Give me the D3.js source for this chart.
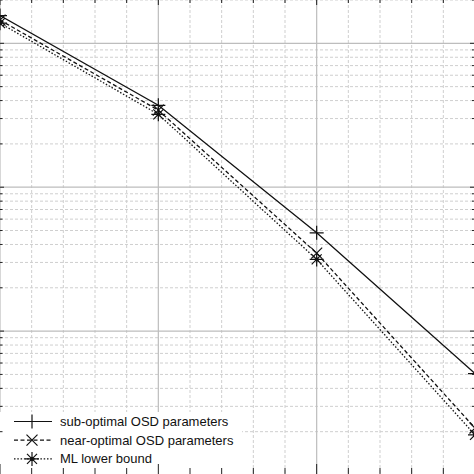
<!DOCTYPE html>
<html>
<head>
<meta charset="utf-8">
<script src="https://cdn.jsdelivr.net/npm/d3@7"></script>
<style>
  body { margin: 0; background: #fff; }
  svg { display: block; }
  text { font-family: "Liberation Sans", Arial, sans-serif; }
</style>
</head>
<body>
<svg id="chart"></svg>
<script>
// SNR points (dB) and frame error rates
const snr = [2, 3, 4, 5];
const subOptimal = [0.0156, 3.71e-3, 4.82e-4, 5.07e-5];
const nearOptimal = [0.0145, 3.43e-3, 3.48e-4, 2.12e-5];
const mlBound = [0.0138, 3.21e-3, 3.15e-4, 1.90e-5];
const seriesNames = ["sub-optimal OSD parameters", "near-optimal OSD parameters", "ML lower bound"];

const xMajor = [2, 3, 4, 5];
const xMinor = d3.range(2, 5.001, 0.2);
const yMajor = [1e-5, 1e-4, 1e-3, 1e-2];

const width = 474, height = 474;
const svg = d3.select("#chart").attr("width", width).attr("height", height);

const x = d3.scaleLinear().domain([2, 5]).range([0, 475]);
const y = d3.scaleLog().domain([1e-5, 2e-2]).range([475, 0]);

// minor y values: 2..9 per decade
const yMinor = [];
[1e-5, 1e-4, 1e-3, 1e-2].forEach(d => {
    for (let k = 2; k <= 9; k++) {
        const v = d * k;
        if (v <= 2e-2) yMinor.push(v);
    }
});

const grid = svg.append("g");
grid.selectAll(".gx-minor")
    .data(xMinor.filter(v => !xMajor.some(m => Math.abs(m - v) < 1e-6)))
    .join("line")
    .attr("x1", d => x(d)).attr("x2", d => x(d))
    .attr("y1", 0).attr("y2", height)
    .attr("stroke", "#cfcfcf").attr("stroke-dasharray", "3,2");
grid.selectAll(".gy-minor")
    .data(yMinor)
    .join("line")
    .attr("x1", 0).attr("x2", width)
    .attr("y1", d => y(d)).attr("y2", d => y(d))
    .attr("stroke", "#cfcfcf").attr("stroke-dasharray", "3,2");
grid.selectAll(".gx-major")
    .data(xMajor)
    .join("line")
    .attr("x1", d => x(d)).attr("x2", d => x(d))
    .attr("y1", 0).attr("y2", height)
    .attr("stroke", "#bdbdbd").attr("stroke-width", 1.2);
grid.selectAll(".gy-major")
    .data(yMajor)
    .join("line")
    .attr("x1", 0).attr("x2", width)
    .attr("y1", d => y(d)).attr("y2", d => y(d))
    .attr("stroke", "#bdbdbd").attr("stroke-width", 1.2);

const styles = [
    { data: subOptimal, dash: null, marker: "plus" },
    { data: nearOptimal, dash: "4,2.5", marker: "cross" },
    { data: mlBound, dash: "1.5,1.8", marker: "star" }
];

const line = d3.line().x(d => x(d[0])).y(d => y(d[1]));

function drawMarker(g, type, cx, cy) {
    const s = 7, c = 5.5;
    const path = d3.path();
    if (type === "plus" || type === "star") {
        path.moveTo(cx - s, cy); path.lineTo(cx + s, cy);
        path.moveTo(cx, cy - s); path.lineTo(cx, cy + s);
    }
    if (type === "cross" || type === "star") {
        const r = type === "star" ? 5 : c;
        path.moveTo(cx - r, cy - r); path.lineTo(cx + r, cy + r);
        path.moveTo(cx - r, cy + r); path.lineTo(cx + r, cy - r);
    }
    g.append("path").attr("d", path.toString())
        .attr("stroke", "#111").attr("stroke-width", 1.2).attr("fill", "none");
    if (type === "star") {
        g.append("circle").attr("cx", cx).attr("cy", cy).attr("r", 2).attr("fill", "#111");
    }
}

const plot = svg.append("g");
styles.forEach(s => {
    const pts = snr.map((v, i) => [v, s.data[i]]);
    plot.append("path")
        .attr("d", line(pts))
        .attr("fill", "none")
        .attr("stroke", "#111")
        .attr("stroke-width", 1.3)
        .attr("stroke-dasharray", s.dash);
    const mg = plot.append("g");
    pts.forEach(p => drawMarker(mg, s.marker, x(p[0]), y(p[1])));
});

// legend
const legend = svg.append("g");
legend.append("rect")
    .attr("x", 0).attr("y", 412).attr("width", 242).attr("height", 70)
    .attr("fill", "#fff");
styles.forEach((s, i) => {
    const ly = 421.5 + i * 18.7;
    legend.append("line")
        .attr("x1", 14).attr("x2", 52).attr("y1", ly).attr("y2", ly)
        .attr("stroke", "#111").attr("stroke-width", 1.2)
        .attr("stroke-dasharray", s.dash);
    drawMarker(legend, s.marker, 32, ly);
    legend.append("text")
        .attr("x", 60).attr("y", ly + 4.5)
        .attr("font-size", "13px")
        .attr("fill", "#111")
        .text(seriesNames[i]);
});

// axis ticks on the frame
const ticks = svg.append("g").attr("stroke", "#222").attr("stroke-width", 1);
xMinor.forEach(v => {
    const major = xMajor.some(m => Math.abs(m - v) < 1e-6);
    ticks.append("line").attr("x1", x(v)).attr("x2", x(v))
        .attr("y1", 0).attr("y2", major ? 5 : 3);
    ticks.append("line").attr("x1", x(v)).attr("x2", x(v))
        .attr("y1", 475).attr("y2", major ? 464 : 468);
});
yMajor.concat(yMinor).forEach(v => {
    const major = yMajor.includes(v);
    ticks.append("line").attr("y1", y(v)).attr("y2", y(v))
        .attr("x1", 0).attr("x2", major ? 4 : 2.5);
    ticks.append("line").attr("y1", y(v)).attr("y2", y(v))
        .attr("x1", 475).attr("x2", major ? 470 : 472);
});
</script>
</body>
</html>
